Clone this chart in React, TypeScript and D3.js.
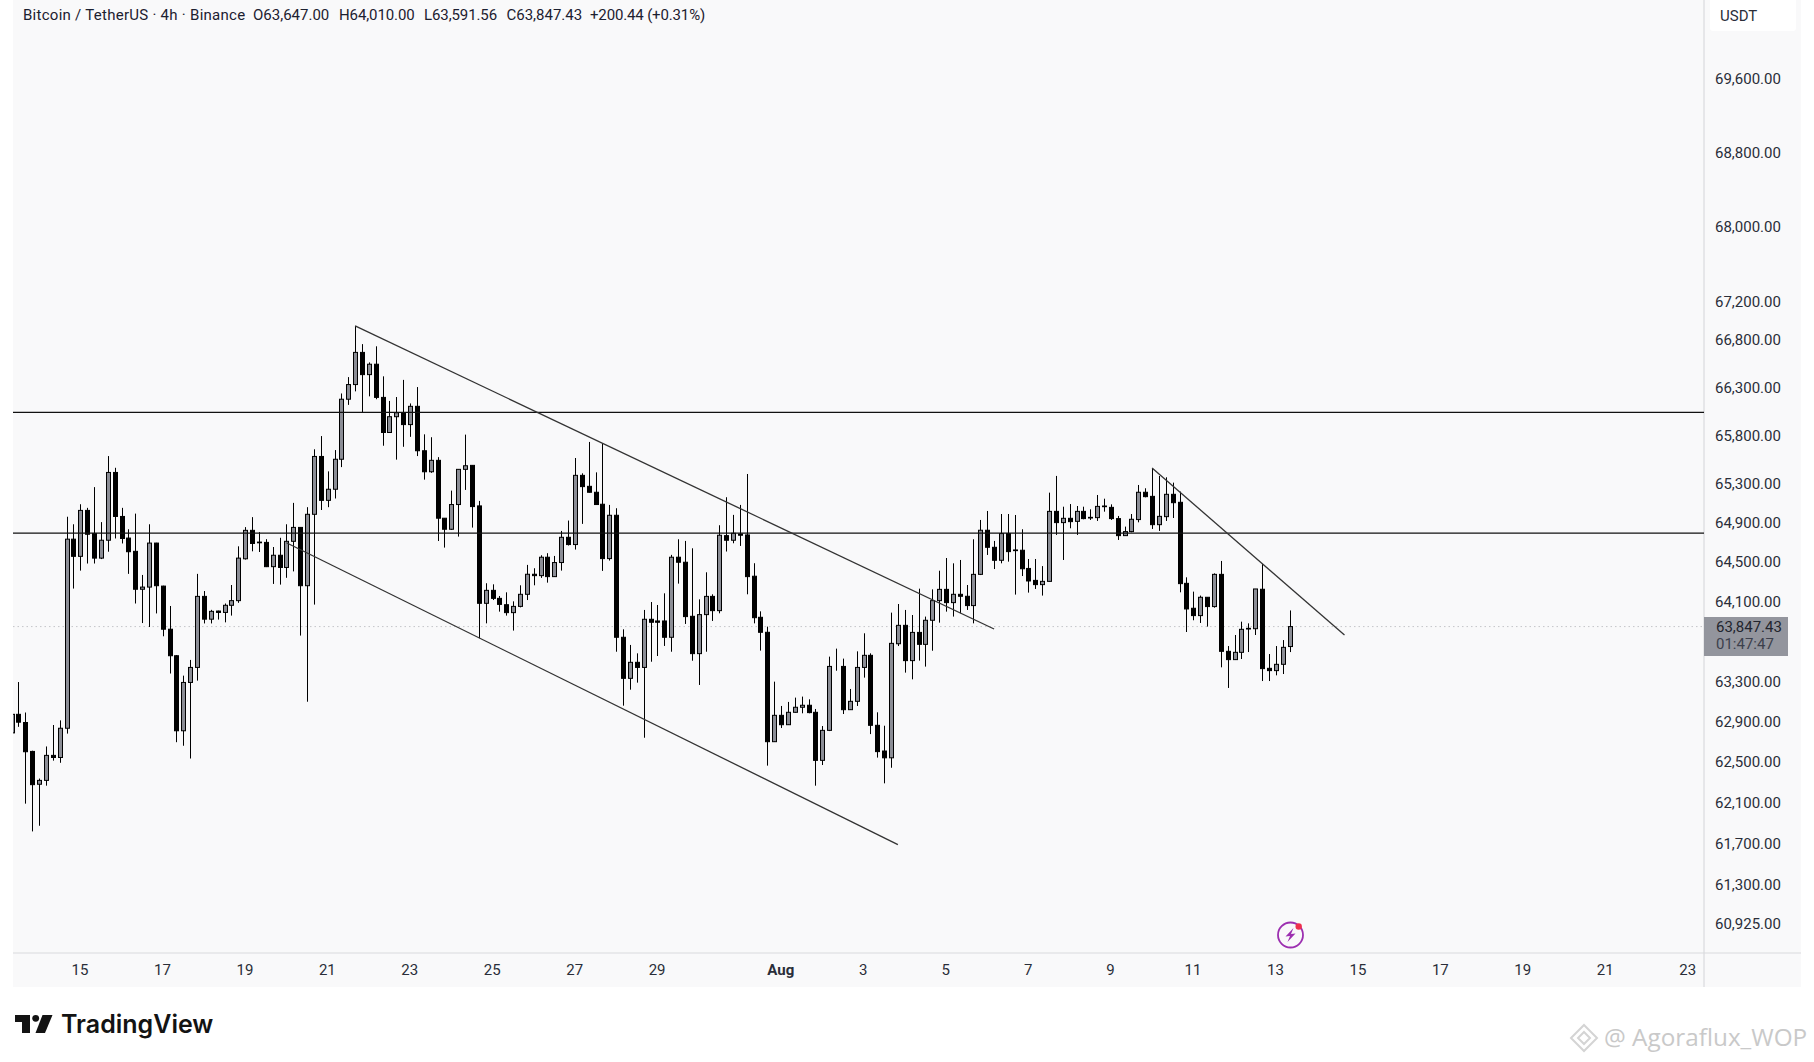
import { useEffect, useRef } from 'react';
import * as d3 from 'd3';

const WIDTH = 1814;
const HEIGHT = 1062;

// BTCUSDT 4h candles, first one starts 13 Jul 2024 08:00
const firstCandle = Date.UTC(2024, 6, 13, 8);
const FOUR_HOURS = 4 * 3600 * 1000;

const opens = [
  62787, 62971, 62890, 62604, 62281, 62319, 62565, 62544, 62833, 64733,
  64558, 65027, 64791, 64540, 64722, 65417, 64965, 64744, 64609, 64224,
  64246, 64693, 64256, 63821, 63555, 62808, 63288, 63438, 64152, 63922,
  64004, 63990, 64062, 64109, 64533, 64823, 64703, 64700, 64453, 64569,
  64445, 64711, 64853, 64260, 64987, 65582, 65130, 65244, 65553, 66176,
  66329, 66666, 66433, 66542, 66195, 65830, 65994, 66035, 65912, 66102,
  65641, 65424, 65542, 64947, 64834, 65087, 65449, 65490, 65073, 64082,
  64213, 64132, 64068, 63988, 64051, 64173, 64376, 64362, 64549, 64352,
  64495, 64752, 64678, 65387, 65274, 65213, 65090, 64535, 64977, 63740,
  63329, 63489, 63438, 63921, 63904, 63904, 63740, 64549, 64498, 63951,
  63576, 63968, 64152, 64008, 64769, 64722, 64786, 64776, 64356, 63941,
  63790, 62700, 62961, 62868, 62991, 63041, 63061, 62991, 62516, 62812,
  63498, 63448, 63017, 63100, 63438, 63559, 62862, 62608, 62541, 63675,
  63860, 63506, 63789, 63669, 63911, 64109, 64223, 64089, 64173, 64153,
  64059, 64375, 64824, 64650, 64518, 64790, 64623, 64620, 64435, 64314,
  64271, 64304, 65017, 64902, 64946, 64915, 65017, 64949, 64953, 65072,
  65058, 64943, 64769, 64810, 64933, 65213, 65171, 64881, 64963, 65192,
  65110, 64284, 64032, 63958, 64143, 64049, 64375, 63599, 63516, 63589,
  63830, 63826, 64224, 63429, 63406, 63469, 63647,
];

const highs = [
  62971, 63292, 62989, 62611, 62337, 62653, 62865, 62911, 64962, 64885,
  65090, 65053, 65266, 64907, 65586, 65465, 65053, 64834, 64994, 64369,
  64885, 64696, 64260, 64055, 63562, 63356, 63513, 64380, 64206, 64016,
  64008, 64080, 64267, 64660, 64856, 64958, 64805, 64733, 64653, 64747,
  64885, 65104, 64853, 65060, 65656, 65793, 65428, 65648, 66236, 66407,
  66945, 66753, 66561, 66730, 66415, 66158, 66199, 66378, 66132, 66303,
  65811, 65781, 65575, 64947, 65230, 65449, 65808, 65490, 65124, 64285,
  64274, 64156, 64193, 64102, 64264, 64471, 64437, 64569, 64590, 64562,
  64817, 64923, 65566, 65408, 65732, 65418, 65718, 65083, 65049, 63820,
  63663, 63579, 64015, 64095, 64065, 64183, 64573, 64732, 64715, 64640,
  64122, 64396, 64173, 64875, 65162, 64981, 65083, 65401, 64488, 64001,
  63847, 63296, 63054, 63094, 63137, 63147, 63120, 63024, 62855, 63546,
  63626, 63526, 63223, 63599, 63780, 63579, 62991, 62858, 63988, 64075,
  64015, 63964, 64230, 63948, 64223, 64412, 64541, 64487, 64521, 64267,
  64732, 64929, 65021, 64715, 64990, 64990, 64980, 64834, 64531, 64531,
  64459, 65209, 65381, 65065, 65092, 65072, 65065, 65038, 65185, 65147,
  65089, 64970, 64861, 64990, 65288, 65254, 65463, 65381, 65367, 65312,
  65220, 64345, 64200, 64160, 64143, 64385, 64511, 63652, 63763, 63897,
  63880, 64227, 64480, 63572, 63652, 63712, 64010,
];

const lows = [
  62787, 62847, 62091, 61820, 61875, 62267, 62513, 62492, 62780, 64231,
  64413, 64485, 64485, 64530, 64605, 64740, 64689, 64380, 64080, 63883,
  63843, 63980, 63750, 63377, 62695, 62660, 62534, 63306, 63879, 63879,
  63918, 63890, 63958, 64087, 64525, 64609, 64602, 64449, 64278, 64271,
  64340, 64405, 63757, 63096, 64069, 65031, 65060, 65149, 65472, 66117,
  66258, 66042, 66206, 66176, 65693, 65830, 65549, 65682, 65785, 65586,
  65343, 65413, 64714, 64647, 64827, 64759, 65237, 64851, 63730, 63880,
  64115, 63998, 63958, 63807, 64041, 64115, 64264, 64339, 64291, 64350,
  64413, 64668, 64627, 64889, 65210, 65085, 64410, 64515, 63595, 63057,
  63216, 63286, 62739, 63495, 63552, 63653, 63595, 64281, 63874, 63505,
  63263, 63595, 63904, 63981, 64607, 64691, 64664, 64173, 63880, 63606,
  62464, 62700, 62835, 62866, 62988, 62981, 62981, 62267, 62470, 62805,
  63405, 62974, 63014, 63054, 63336, 62775, 62543, 62290, 62443, 63652,
  63386, 63319, 63506, 63446, 63605, 63887, 63998, 63948, 63981, 64015,
  63880, 64368, 64572, 64429, 64487, 64504, 64170, 64358, 64190, 64227,
  64160, 64301, 64776, 64521, 64844, 64776, 64936, 64929, 64919, 65014,
  64929, 64725, 64769, 64803, 64905, 65161, 64837, 64817, 64919, 64949,
  64193, 63793, 63911, 63884, 63847, 64038, 63439, 63233, 63512, 63522,
  63592, 63763, 63302, 63302, 63359, 63372, 63591.56,
];

const closes = [
  62971, 62893, 62601, 62277, 62319, 62565, 62544, 62833, 64733, 64558,
  65027, 64783, 64540, 64722, 65417, 64965, 64740, 64605, 64224, 64246,
  64693, 64260, 63821, 63555, 62808, 63288, 63438, 64152, 63922, 64001,
  63990, 64062, 64109, 64540, 64823, 64689, 64696, 64453, 64569, 64445,
  64711, 64853, 64260, 64987, 65582, 65130, 65244, 65553, 66176, 66329,
  66666, 66433, 66542, 66195, 65830, 65994, 66035, 65912, 66102, 65641,
  65424, 65542, 64947, 64834, 65087, 65449, 65486, 65066, 64082, 64213,
  64132, 64071, 63988, 64051, 64173, 64376, 64362, 64549, 64352, 64495,
  64752, 64678, 65387, 65271, 65213, 65087, 64535, 64977, 63740, 63329,
  63489, 63438, 63921, 63891, 63891, 63740, 64549, 64498, 63948, 63576,
  63968, 64152, 64008, 64773, 64722, 64793, 64773, 64352, 63937, 63790,
  62700, 62961, 62868, 62991, 63041, 63061, 62988, 62516, 62812, 63448,
  63498, 63017, 63100, 63438, 63559, 62862, 62602, 62541, 63679, 63860,
  63506, 63789, 63669, 63911, 64109, 64223, 64089, 64173, 64153, 64059,
  64375, 64824, 64650, 64518, 64790, 64606, 64616, 64432, 64308, 64271,
  64304, 65017, 64902, 64946, 64912, 65017, 64943, 64956, 65068, 65065,
  64943, 64769, 64810, 64936, 65213, 65168, 64881, 64966, 65192, 65106,
  64281, 64025, 63958, 64143, 64049, 64375, 63599, 63516, 63589, 63820,
  63823, 64227, 63426, 63406, 63469, 63639, 63847.43,
];

const priceTicks = [
  69600, 68800, 68000, 67200, 66800, 66300, 65800, 65300, 64900, 64500, 64100,
  63300, 62900, 62500, 62100, 61700, 61300, 60925,
];

const dateTicks = [
  '2024-07-15', '2024-07-17', '2024-07-19', '2024-07-21', '2024-07-23', '2024-07-25',
  '2024-07-27', '2024-07-29', '2024-08-01', '2024-08-03', '2024-08-05', '2024-08-07',
  '2024-08-09', '2024-08-11', '2024-08-13', '2024-08-15', '2024-08-17', '2024-08-19',
  '2024-08-21', '2024-08-23',
];

const levels = [66039, 64794];

const trendTimes = [
  ['2024-07-21T16:00Z', '2024-08-06T04:00Z'],
  ['2024-07-20T00:00Z', '2024-08-03T20:00Z'],
  ['2024-08-10T00:00Z', '2024-08-14T16:00Z'],
];
const trendPrices = [
  [66945, 63823],
  [64696, 61692],
  [65463, 63762],
];

const headerParts = [
  { text: 'Bitcoin / TetherUS · 4h · Binance', x: 23, spacing: 0.27 },
  { text: 'O63,647.00', x: 253, spacing: 0 },
  { text: 'H64,010.00', x: 339, spacing: -0.1 },
  { text: 'L63,591.56', x: 424, spacing: -0.1 },
  { text: 'C63,847.43', x: 506.5, spacing: 0 },
  { text: '+200.44 (+0.31%)', x: 590, spacing: -0.15 },
];

const PLOT = { left: 13, right: 1704, bottom: 953, edge: 1801, foot: 987 };
const FONT = 'Roboto, sans-serif';
const INK = '#000000';
const UP_FILL = '#8b8d95';

export default function App() {
  const svgRef = useRef<SVGSVGElement>(null);

  useEffect(() => {
    if (!svgRef.current) return;
    const svg = d3.select(svgRef.current);
    svg.selectAll('*').remove();

    const x = d3.scaleUtc()
      .domain([new Date('2024-07-15T00:00Z'), new Date('2024-08-23T00:00Z')])
      .range([80.3, 1688]);
    const y = d3.scaleLog()
      .domain([70472, 60647])
      .range([0, PLOT.bottom]);

    // panels
    svg.append('rect').attr('width', WIDTH).attr('height', HEIGHT).attr('fill', '#ffffff');
    svg.append('rect')
      .attr('x', PLOT.left)
      .attr('width', PLOT.edge - PLOT.left)
      .attr('height', PLOT.foot)
      .attr('fill', '#f9f9fa');
    svg.append('line')
      .attr('x1', PLOT.right).attr('x2', PLOT.right)
      .attr('y1', 0).attr('y2', PLOT.foot)
      .attr('stroke', '#d3d4d8');
    svg.append('line')
      .attr('x1', PLOT.left).attr('x2', PLOT.edge)
      .attr('y1', PLOT.bottom).attr('y2', PLOT.bottom)
      .attr('stroke', '#d9dadd');

    svg.append('defs').append('clipPath').attr('id', 'plot-clip')
      .append('rect')
      .attr('x', PLOT.left)
      .attr('width', PLOT.right - PLOT.left)
      .attr('height', PLOT.bottom);

    const plot = svg.append('g').attr('clip-path', 'url(#plot-clip)');

    // last price dotted line
    const lastClose = closes[closes.length - 1];
    plot.append('line')
      .attr('x1', PLOT.left).attr('x2', PLOT.right)
      .attr('y1', y(lastClose)).attr('y2', y(lastClose))
      .attr('stroke', '#c4c5c9')
      .attr('stroke-dasharray', '1.5,3');

    // candles
    const candles = opens.map((open, i) => ({
      time: new Date(firstCandle + i * FOUR_HOURS),
      open,
      high: highs[i],
      low: lows[i],
      close: closes[i],
    }));

    const candle = plot.append('g')
      .selectAll('g')
      .data(candles)
      .enter()
      .append('g')
      .attr('transform', d => `translate(${Math.round(x(d.time)) + 0.5},0)`);

    candle.append('line')
      .attr('y1', d => y(d.high))
      .attr('y2', d => y(d.low))
      .attr('stroke', INK);

    candle.append('rect')
      .attr('x', -2)
      .attr('width', 4)
      .attr('y', d => y(Math.max(d.open, d.close)))
      .attr('height', d => Math.abs(y(d.open) - y(d.close)))
      .attr('fill', d => (d.close >= d.open ? UP_FILL : INK))
      .attr('stroke', INK)
      .attr('stroke-width', 1);

    // horizontal levels
    plot.selectAll('.level')
      .data(levels)
      .enter()
      .append('line')
      .attr('x1', PLOT.left).attr('x2', PLOT.right)
      .attr('y1', d => y(d)).attr('y2', d => y(d))
      .attr('stroke', '#111111')
      .attr('stroke-width', 1.2);

    // trend lines
    plot.selectAll('.trend')
      .data(trendTimes.map((t, i) => ({ t, p: trendPrices[i] })))
      .enter()
      .append('line')
      .attr('x1', d => x(new Date(d.t[0])))
      .attr('y1', d => y(d.p[0]))
      .attr('x2', d => x(new Date(d.t[1])))
      .attr('y2', d => y(d.p[1]))
      .attr('stroke', '#333333')
      .attr('stroke-width', 1.3);

    // price axis
    const yAxis = svg.append('g')
      .attr('transform', `translate(${PLOT.right},0)`)
      .call(d3.axisRight(y).tickValues(priceTicks).tickSize(0).tickPadding(11).tickFormat(d3.format(',.2f')));
    yAxis.select('.domain').remove();
    yAxis.selectAll('text')
      .attr('font-family', FONT)
      .attr('font-size', 15)
      .attr('fill', '#2a2e39');

    // date axis
    const xAxis = svg.append('g')
      .attr('transform', `translate(-0.8,${PLOT.bottom})`)
      .call(
        d3.axisBottom(x)
          .tickValues(dateTicks.map(d => new Date(`${d}T00:00Z`)))
          .tickSize(0)
          .tickPadding(11)
          .tickFormat((d: any) => (d.getUTCDate() === 1 ? d3.utcFormat('%b')(d) : d3.utcFormat('%-d')(d))),
      );
    xAxis.select('.domain').remove();
    xAxis.selectAll('text')
      .attr('font-family', FONT)
      .attr('font-size', 15)
      .attr('fill', '#2a2e39')
      .attr('font-weight', (d: any) => (d.getUTCDate() === 1 ? 700 : 400));

    // header legend
    svg.append('g')
      .selectAll('text')
      .data(headerParts)
      .enter()
      .append('text')
      .attr('x', d => d.x)
      .attr('y', 20)
      .attr('font-family', FONT)
      .attr('font-size', 15)
      .attr('letter-spacing', d => d.spacing)
      .attr('fill', '#1c2030')
      .text(d => d.text);

    // currency button
    svg.append('rect')
      .attr('x', 1710).attr('y', -3)
      .attr('width', 86).attr('height', 34)
      .attr('rx', 3)
      .attr('fill', '#ffffff');
    svg.append('text')
      .attr('x', 1720).attr('y', 21)
      .attr('font-family', FONT).attr('font-size', 15)
      .attr('fill', '#2a2e39')
      .text('USDT');

    // last price tag
    svg.append('rect')
      .attr('x', PLOT.right).attr('y', 617)
      .attr('width', 84).attr('height', 39)
      .attr('fill', '#93959d');
    svg.append('text')
      .attr('x', 1716).attr('y', y(lastClose) + 5.5)
      .attr('font-family', FONT).attr('font-size', 15)
      .attr('fill', '#22252e')
      .text(d3.format(',.2f')(lastClose));
    svg.append('text')
      .attr('x', 1716).attr('y', 649)
      .attr('font-family', FONT).attr('font-size', 15)
      .attr('fill', '#3c404c')
      .text('01:47:47');

    // lightning badge
    const badge = svg.append('g').attr('transform', 'translate(1290.5,935)');
    badge.append('circle')
      .attr('r', 12.5)
      .attr('fill', 'none')
      .attr('stroke', '#9c2fb0')
      .attr('stroke-width', 1.8);
    badge.append('path')
      .attr('d', 'M3,-7 L-5,1.5 L-0.5,1 L-3,7 L5,-1.5 L0.5,-1 Z')
      .attr('fill', '#9c2fb0');
    badge.append('circle')
      .attr('cx', 8.2).attr('cy', -8.5).attr('r', 3.2)
      .attr('fill', '#ee2f4e');

    // logo
    const logo = svg.append('g').attr('fill', '#131313');
    logo.append('path').attr('d', 'M15,1015 H30 V1033 H22 V1022 H15 Z');
    logo.append('circle').attr('cx', 35.7).attr('cy', 1018.3).attr('r', 3.4);
    logo.append('path').attr('d', 'M42.5,1015 H52.5 L45,1033 H35.5 Z');
    logo.append('text')
      .attr('x', 61).attr('y', 1033)
      .attr('font-family', 'Inter, sans-serif')
      .attr('font-size', 25)
      .attr('font-weight', 600)
      .text('TradingView');

    // watermark
    const mark = svg.append('g').attr('transform', 'translate(1584,1038)');
    mark.append('path')
      .attr('d', 'M0,-13 L13,0 L0,13 L-13,0 Z M0,-6 L6,0 L0,6 L-6,0 Z')
      .attr('fill', 'none')
      .attr('stroke', '#d4d4d4')
      .attr('stroke-width', 2);
    svg.append('text')
      .attr('x', 1604).attr('y', 1046)
      .attr('font-family', '"Open Sans", sans-serif')
      .attr('font-size', 24.3)
      .attr('fill', '#c9c9c9')
      .text('@ Agoraflux_WOP');
  }, []);

  return (
    <svg
      ref={svgRef}
      width={WIDTH}
      height={HEIGHT}
      style={{ position: 'absolute', left: 0, top: 0, display: 'block' }}
    />
  );
}
